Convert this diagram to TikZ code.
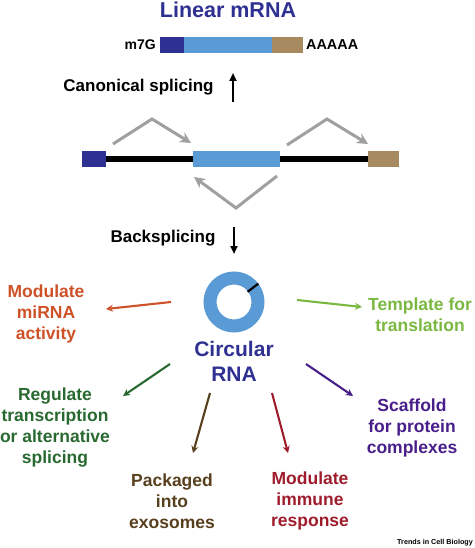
\documentclass[tikz,border=0pt]{standalone}
\usepackage{fontspec}
\setmainfont{Liberation Sans}
\usetikzlibrary{arrows.meta,calc}
\definecolor{titleblue}{RGB}{46,49,146}
\definecolor{exdark}{RGB}{46,49,146}
\definecolor{exlight}{RGB}{91,155,213}
\definecolor{extan}{RGB}{168,138,96}
\definecolor{spgray}{RGB}{160,160,160}
\definecolor{corange}{RGB}{205,82,40}
\definecolor{clgreen}{RGB}{122,184,66}
\definecolor{cdgreen}{RGB}{40,105,48}
\definecolor{cbrown}{RGB}{88,64,30}
\definecolor{cdred}{RGB}{158,28,44}
\definecolor{cpurple}{RGB}{72,30,138}
\begin{document}
\begin{tikzpicture}[x=1pt,y=-1pt,
  lbl/.style={font=\bfseries\fontsize{17.5}{21}\selectfont, align=center, inner sep=0pt},
  seg/.style={minimum height=16pt, inner sep=0pt, outer sep=0pt, anchor=west},
  garrow/.style={draw=spgray, line width=3pt, -{Stealth[length=11pt,width=11pt]}},
  barrow/.style={draw=black, line width=2.4pt, -{Triangle[length=8pt,width=7pt]}},
  carrow/.style={line width=2.1pt, -{Stealth[length=7pt,width=7pt]}}]
\useasboundingbox (0,0) rectangle (474,548);

% Title
\node[font=\bfseries\fontsize{21.5}{24}\selectfont, text=titleblue, inner sep=0pt] (title) at (228,10) {Linear mRNA};

% Linear mRNA bar
\node[seg, fill=exdark, minimum width=24pt] (m1) at (160,45) {};
\node[seg, fill=exlight, minimum width=88pt] (m2) at (m1.east) {};
\node[seg, fill=extan, minimum width=31pt] (m3) at (m2.east) {};
\node[font=\bfseries\fontsize{14}{16}\selectfont, anchor=east, inner sep=0pt] (cap) at (156,45) {m7G};
\node[font=\bfseries\fontsize{14.4}{16}\selectfont, anchor=west, inner sep=0pt] (tail) at (306,45) {AAAAA};

% Canonical splicing
\node[font=\bfseries\fontsize{17}{20}\selectfont, inner sep=0pt] (canon) at (138.5,87) {Canonical splicing};
\coordinate (cu1) at (233,102);
\coordinate (cu2) at (233,73);
\draw[barrow] (cu1) -- (cu2);

% Pre-mRNA gene
\node[seg, fill=exdark, minimum width=24pt] (g1) at (82,159) {};
\node[seg, fill=exlight, minimum width=87pt] (g2) at (193,159) {};
\node[seg, fill=extan, minimum width=31pt] (g3) at (368,159) {};
\draw[line width=5.5pt] (g1.east) -- (g2.west);
\draw[line width=5.5pt] (g2.east) -- (g3.west);

% splicing arrows
\coordinate (la) at (113,144);
\coordinate (lb) at (152,119);
\coordinate (lc) at (191,143);
\draw[garrow] (la) -- (lb) -- (lc);
\coordinate (ra) at (287,145);
\coordinate (rb) at (327,119);
\coordinate (rc) at (368,144);
\draw[garrow] (ra) -- (rb) -- (rc);
\coordinate (ba) at (277,176);
\coordinate (bb) at (236,208);
\coordinate (bc) at (194,177);
\draw[garrow] (ba) -- (bb) -- (bc);

% Backsplicing
\node[font=\bfseries\fontsize{17}{20}\selectfont, inner sep=0pt] (back) at (163,238) {Backsplicing};
\coordinate (bd1) at (234,227);
\coordinate (bd2) at (234,254);
\draw[barrow] (bd1) -- (bd2);

% Circular RNA
\node[circle, draw=exlight, line width=13pt, minimum size=48pt, inner sep=0pt] (ring) at (234,302) {};
\draw[black, line width=2.2pt] ($(ring.center)+(-37:17)$) -- ($(ring.center)+(-37:30.5)$);
\node[font=\bfseries\fontsize{21}{25}\selectfont, text=titleblue, align=center, inner sep=0pt] (circ) at (234,361) {Circular\\RNA};

% Functions
\node[lbl, text=corange] (mirna) at (46,314) {Modulate\\miRNA\\activity};
\node[lbl, text=clgreen] (templ) at (420,315) {Template for\\translation};
\node[lbl, text=cdgreen] (regul) at (55,428) {Regulate\\transcription\\or alternative\\splicing};
\node[lbl, text=cbrown] (pack) at (172,501) {Packaged\\into\\exosomes};
\node[lbl, text=cdred] (immune) at (310,501) {Modulate\\immune\\response};
\node[lbl, text=cpurple] (scaf) at (412,428) {Scaffold\\for protein\\complexes};

% arrows out of circular RNA
\coordinate (s1) at (171,302);  \coordinate (e1) at (106,309);
\draw[carrow, draw=corange] (s1) -- (e1);
\coordinate (s2) at (297,300);  \coordinate (e2) at (362,307);
\draw[carrow, draw=clgreen] (s2) -- (e2);
\coordinate (s3) at (170,364);  \coordinate (e3) at (123,396);
\draw[carrow, draw=cdgreen] (s3) -- (e3);
\coordinate (s4) at (210,393);  \coordinate (e4) at (193,453);
\draw[carrow, draw=cbrown] (s4) -- (e4);
\coordinate (s5) at (272,393);  \coordinate (e5) at (288,453);
\draw[carrow, draw=cdred] (s5) -- (e5);
\coordinate (s6) at (306,364);  \coordinate (e6) at (353,396);
\draw[carrow, draw=cpurple] (s6) -- (e6);

% credit
\node[font=\bfseries\fontsize{7.2}{8}\selectfont, inner sep=0pt] (credit) at (435,543) {Trends in Cell Biology};
\end{tikzpicture}
\end{document}
